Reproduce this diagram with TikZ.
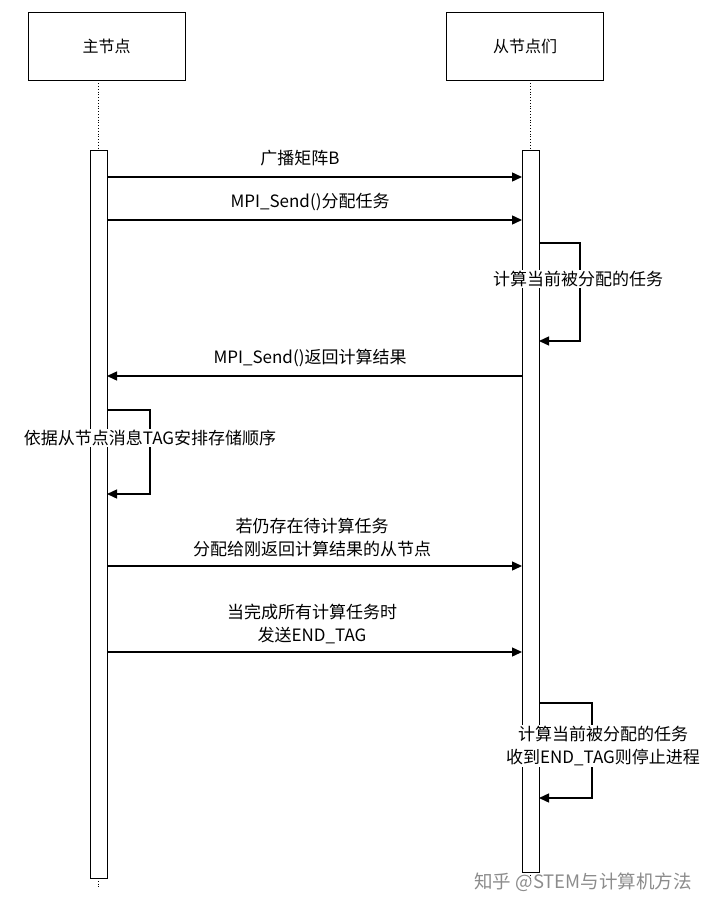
\documentclass[tikz,border=0pt]{standalone}
\usepackage{fontspec}
\setmainfont{Noto Sans CJK SC}
\usetikzlibrary{arrows.meta}
\begin{document}
\begin{tikzpicture}[x=1pt,y=-1pt,
  msg/.style={-{Triangle[length=10pt,width=9pt]},line width=1.4pt},
  lbl/.style={font=\fontsize{17pt}{23pt}\selectfont,align=center,inner sep=1pt},
  lblw/.style={lbl,fill=white},
  actor/.style={draw,line width=0.8pt,minimum width=157pt,minimum height=68pt,font=\fontsize{16pt}{18pt}\selectfont},
  bar/.style={draw,line width=0.8pt,fill=white},
  life/.style={dotted,line width=0.8pt}]
\useasboundingbox (0,0) rectangle (711,912);
\node[actor] (M) at (106.5,46) {主节点};
\node[actor] (S) at (525,46) {从节点们};
\draw[life] (M.south -| 98,0) -- (98,150);
\draw[life] (S.south -| 530,0) -- (530,150);
\draw[life] (98,878) -- (98,888);
\draw[life] (530,872) -- (530,882);
\draw[bar] (90,150) rectangle (107,878);
\draw[bar] (522,150) rectangle (539,872);
\coordinate (l1) at (107,177); \coordinate (r1) at (522,177);
\draw[msg] (l1) -- (r1);
\node[lbl] (t1) at (300,158) {广播矩阵B};
\coordinate (l2) at (107,220); \coordinate (r2) at (522,220);
\draw[msg] (l2) -- (r2);
\node[lbl] (t2) at (310,202) {MPI\_Send()分配任务};
\coordinate (a1) at (539,243); \coordinate (a2) at (539,341);
\draw[msg] (a1) -- (580,243) -- (580,341) -- (a2);
\node[lblw] (t3) at (578,279) {计算当前被分配的任务};
\coordinate (r3) at (522,376); \coordinate (l3) at (107,376);
\draw[msg] (r3) -- (l3);
\node[lbl] (t4) at (310,358) {MPI\_Send()返回计算结果};
\coordinate (b1) at (107,410); \coordinate (b2) at (107,494);
\draw[msg] (b1) -- (150,410) -- (150,494) -- (b2);
\node[lblw] (t5) at (150,438) {依据从节点消息TAG安排存储顺序};
\coordinate (l4) at (107,566); \coordinate (r4) at (522,566);
\draw[msg] (l4) -- (r4);
\node[lbl] (t6) at (312,538) {若仍存在待计算任务\\分配给刚返回计算结果的从节点};
\coordinate (l5) at (107,652); \coordinate (r5) at (522,652);
\draw[msg] (l5) -- (r5);
\node[lbl] (t7) at (312,624) {当完成所有计算任务时\\发送END\_TAG};
\coordinate (c1) at (539,703); \coordinate (c2) at (539,798);
\draw[msg] (c1) -- (592,703) -- (592,798) -- (c2);
\node[lblw] (t8) at (603,746) {计算当前被分配的任务\\收到END\_TAG则停止进程};
\node[lbl,text=black!45,font=\fontsize{18.5pt}{20pt}\selectfont] (wm) at (583,882) {知乎 @STEM与计算机方法};
\end{tikzpicture}
\end{document}
